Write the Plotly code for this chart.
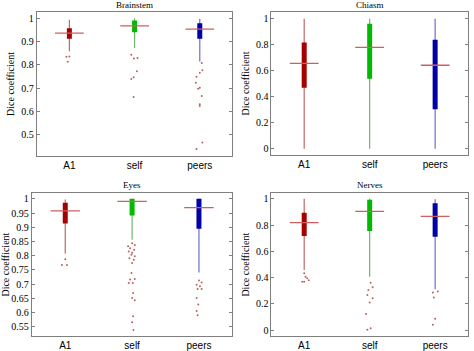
import plotly.graph_objects as go

groups = ["A1", "self", "peers"]

# Brainstem
brainstem_lo = [0.858, 0.872, 0.815]
brainstem_q1 = [0.912, 0.940, 0.912]
brainstem_med = [0.936, 0.967, 0.953]
brainstem_q3 = [0.957, 0.990, 0.979]
brainstem_hi = [0.993, 1.000, 0.998]
brainstem_out_A1 = [0.835, 0.836, 0.813]
brainstem_off_A1 = [-0.045, 0.0, -0.025]
brainstem_out_self = [0.844, 0.827, 0.830, 0.773, 0.747, 0.740, 0.662]
brainstem_off_self = [-0.05, -0.01, 0.045, 0.035, -0.015, -0.05, -0.015]
brainstem_out_peers = [0.808, 0.777, 0.766, 0.749, 0.723, 0.698, 0.702, 0.667, 0.631, 0.624, 0.467, 0.440]
brainstem_off_peers = [0.03, 0.04, 0.0, -0.05, -0.06, -0.025, 0.0, 0.03, 0.0, 0.0, 0.04, -0.05]

# Chiasm
chiasm_lo = [0.0, 0.0, 0.0]
chiasm_q1 = [0.470, 0.539, 0.304]
chiasm_med = [0.658, 0.780, 0.643]
chiasm_q3 = [0.819, 0.962, 0.839]
chiasm_hi = [1.0, 1.0, 1.0]

# Eyes
eyes_lo = [0.808, 0.856, 0.741]
eyes_q1 = [0.913, 0.941, 0.895]
eyes_med = [0.958, 0.991, 0.969]
eyes_q3 = [0.986, 1.000, 1.000]
eyes_hi = [0.998, 1.000, 1.000]
eyes_out_A1 = [0.787, 0.767, 0.767]
eyes_off_A1 = [0.0, -0.05, 0.025]
eyes_out_self = [0.844, 0.838, 0.833, 0.826, 0.821, 0.815, 0.810, 0.803, 0.798, 0.791, 0.786,
                 0.774, 0.739, 0.716, 0.718, 0.704, 0.704, 0.669, 0.651, 0.643, 0.587, 0.566, 0.538]
eyes_off_self = [0.0, 0.04, -0.06, -0.03, 0.03, -0.05, 0.0, -0.01, 0.04, -0.04, 0.025,
                 0.0, -0.01, -0.03, 0.04, -0.05, 0.01, 0.015, 0.0, 0.04, 0.015, 0.0, 0.02]
eyes_out_peers = [0.713, 0.706, 0.698, 0.692, 0.683, 0.683, 0.651, 0.628, 0.605, 0.590]
eyes_off_peers = [0.0, 0.04, -0.035, 0.015, -0.02, 0.04, -0.035, -0.01, -0.035, -0.02]

# Nerves
nerves_lo = [0.457, 0.407, 0.310]
nerves_q1 = [0.717, 0.755, 0.710]
nerves_med = [0.818, 0.904, 0.866]
nerves_q3 = [0.894, 0.992, 0.967]
nerves_hi = [1.0, 1.0, 0.997]
nerves_out_A1 = [0.432, 0.407, 0.394, 0.369, 0.369, 0.380]
nerves_off_A1 = [0.0, 0.02, 0.045, -0.03, 0.0, 0.07]
nerves_out_self = [0.361, 0.326, 0.305, 0.268, 0.242, 0.210, 0.123, 0.002, 0.013]
nerves_off_self = [0.015, 0.045, -0.02, -0.035, 0.045, 0.0, -0.055, -0.035, 0.015]
nerves_out_peers = [0.286, 0.293, 0.248, 0.086, 0.040]
nerves_off_peers = [-0.035, 0.04, -0.02, 0.0, -0.035]

box_colors = ["rgb(165,0,0)", "rgb(0,185,0)", "rgb(0,0,165)"]
whisker_colors = ["rgb(190,105,105)", "rgb(110,180,110)", "rgb(110,110,200)"]
median_color = "rgb(205,95,95)"
outlier_color = "rgb(185,100,100)"

panels = [
    dict(title="Brainstem", lo=brainstem_lo, q1=brainstem_q1, med=brainstem_med, q3=brainstem_q3, hi=brainstem_hi,
         out=[(brainstem_out_A1, brainstem_off_A1), (brainstem_out_self, brainstem_off_self), (brainstem_out_peers, brainstem_off_peers)],
         xdom=[0.0717, 0.487], ydom=[0.5527, 0.9658], yrange=[0.409, 1.027], title_y=1 - 5 / 351,
         tickvals=[0.5, 0.6, 0.7, 0.8, 0.9, 1.0], ticktext=["0.5", "0.6", "0.7", "0.8", "0.9", "1"]),
    dict(title="Chiasm", lo=chiasm_lo, q1=chiasm_q1, med=chiasm_med, q3=chiasm_q3, hi=chiasm_hi,
         out=[([], []), ([], []), ([], [])],
         xdom=[0.570, 0.987], ydom=[0.5564, 0.965], yrange=[-0.046, 1.051], title_y=1 - 5 / 351,
         tickvals=[0, 0.2, 0.4, 0.6, 0.8, 1.0], ticktext=["0", "0.2", "0.4", "0.6", "0.8", "1"]),
    dict(title="Eyes", lo=eyes_lo, q1=eyes_q1, med=eyes_med, q3=eyes_q3, hi=eyes_hi,
         out=[(eyes_out_A1, eyes_off_A1), (eyes_out_self, eyes_off_self), (eyes_out_peers, eyes_off_peers)],
         xdom=[0.0612, 0.487], ydom=[0.0362, 0.4473], yrange=[0.516, 1.021], title_y=1 - 186 / 351,
         tickvals=[0.55, 0.6, 0.65, 0.7, 0.75, 0.8, 0.85, 0.9, 0.95, 1.0],
         ticktext=["0.55", "0.6", "0.65", "0.7", "0.75", "0.8", "0.85", "0.9", "0.95", "1"]),
    dict(title="Nerves", lo=nerves_lo, q1=nerves_q1, med=nerves_med, q3=nerves_q3, hi=nerves_hi,
         out=[(nerves_out_A1, nerves_off_A1), (nerves_out_self, nerves_off_self), (nerves_out_peers, nerves_off_peers)],
         xdom=[0.570, 0.987], ydom=[0.0362, 0.4473], yrange=[-0.048, 1.045], title_y=1 - 186 / 351,
         tickvals=[0, 0.2, 0.4, 0.6, 0.8, 1.0], ticktext=["0", "0.2", "0.4", "0.6", "0.8", "1"]),
]

fig = go.Figure()
serif = "Liberation Serif, Times New Roman, serif"
sans = "Liberation Sans, Arial, sans-serif"
half = 0.22

layout = dict(
    width=474, height=351, margin=dict(l=0, r=0, t=0, b=0),
    paper_bgcolor="white", plot_bgcolor="white", showlegend=False,
    annotations=[],
)

for k, p in enumerate(panels):
    idx = "" if k == 0 else str(k + 1)
    xa, ya = "x" + idx, "y" + idx
    for i, g in enumerate(groups):
        pos = i + 1
        fig.add_trace(go.Scatter(x=[pos, pos], y=[p["lo"][i], p["hi"][i]], mode="lines",
                                 line=dict(color=whisker_colors[i], width=1.2), xaxis=xa, yaxis=ya,
                                 hoverinfo="skip"))
        fig.add_trace(go.Scatter(x=[pos, pos], y=[p["q1"][i], p["q3"][i]], mode="lines",
                                 line=dict(color=box_colors[i], width=5), xaxis=xa, yaxis=ya,
                                 hoverinfo="skip"))
        fig.add_trace(go.Scatter(x=[pos - half, pos + half], y=[p["med"][i], p["med"][i]], mode="lines",
                                 line=dict(color=median_color, width=1.3), xaxis=xa, yaxis=ya,
                                 hoverinfo="skip"))
        vals, offs = p["out"][i]
        if vals:
            fig.add_trace(go.Scatter(x=[pos + o for o in offs], y=vals, mode="markers",
                                     marker=dict(color=outlier_color, size=2, line=dict(width=0)),
                                     xaxis=xa, yaxis=ya, hoverinfo="skip"))
    layout["xaxis" + idx] = dict(
        domain=p["xdom"], anchor=ya, range=[0.5, 3.5], tickvals=[1, 2, 3], ticktext=groups,
        showline=True, linecolor="#7f7f7f", linewidth=1, mirror=True, showgrid=False, zeroline=False,
        ticks="", tickfont=dict(family=sans, size=10, color="black"),
    )
    layout["yaxis" + idx] = dict(
        domain=p["ydom"], anchor=xa, range=p["yrange"], tickvals=p["tickvals"], ticktext=p["ticktext"],
        showline=True, linecolor="#7f7f7f", linewidth=1, mirror="ticks", showgrid=False, zeroline=False,
        ticks="inside", ticklen=3, tickcolor="#7f7f7f",
        tickfont=dict(family=serif, size=10, color="black"),
        title=dict(text="Dice coefficient", font=dict(family=serif, size=10, color="black"), standoff=4),
    )
    layout["annotations"].append(dict(
        text=p["title"], x=(p["xdom"][0] + p["xdom"][1]) / 2, y=p["title_y"], xref="paper", yref="paper",
        xanchor="center", yanchor="middle", showarrow=False,
        font=dict(family=serif, size=9, color="black"),
    ))

fig.update_layout(**layout)
fig.write_html("out.html")
